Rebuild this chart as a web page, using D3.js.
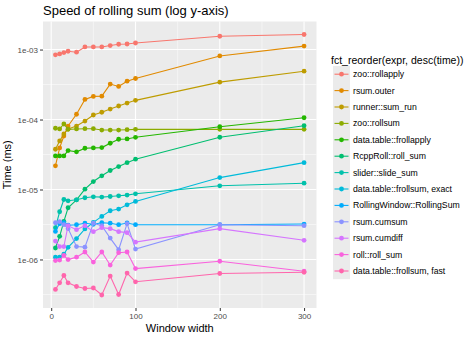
<!DOCTYPE html>
<html>
<head>
<meta charset="utf-8">
<script src="https://cdn.jsdelivr.net/npm/d3@7"></script>
<style>
  body { margin: 0; background: #fff; }
  svg { display: block; font-family: "Liberation Sans", Arial, sans-serif; }
</style>
</head>
<body>
<div id="chart"></div>
<script>
// window widths tested
const widths = [5, 10, 15, 20, 30, 40, 50, 60, 70, 80, 90, 100, 200, 300];

// median times per method, same order as widths
const zooRollapply = [8.4e-4, 8.65e-4, 9.06e-4, 9.46e-4, 9.16e-4, 1.09e-3, 1.09e-3, 1.09e-3, 1.14e-3, 1.19e-3, 1.20e-3, 1.24e-3, 1.55e-3, 1.64e-3];
const rsumOuter = [2.18e-5, 3.93e-5, 5.82e-5, 8.07e-5, 1.19e-4, 1.94e-4, 2.14e-4, 2.16e-4, 3.21e-4, 2.97e-4, 3.53e-4, 3.86e-4, 8.1e-4, 1.12e-3];
const runnerSumRun = [3.76e-5, 4.94e-5, 6.21e-5, 7.32e-5, 8.07e-5, 9.52e-5, 1.16e-4, 1.27e-4, 1.41e-4, 1.56e-4, 1.72e-4, 1.88e-4, 3.42e-4, 4.91e-4];
const zooRollsum = [7.5e-5, 7.33e-5, 8.63e-5, 7.24e-5, 7.33e-5, 7.39e-5, 7.39e-5, 7.08e-5, 7.08e-5, 7.08e-5, 7.16e-5, 7.24e-5, 7.24e-5, 7.24e-5];
const dtFrollapply = [3.02e-5, 3.02e-5, 3.02e-5, 3.6e-5, 3.45e-5, 3.89e-5, 3.93e-5, 3.97e-5, 4.58e-5, 5.23e-5, 5.28e-5, 5.57e-5, 7.89e-5, 1.06e-4];
const rcppRollSum = [1.46e-6, 2.14e-6, 3.5e-6, 5.49e-6, 7.13e-6, 1.01e-5, 1.3e-5, 1.57e-5, 1.87e-5, 2.13e-5, 2.42e-5, 2.71e-5, 5.58e-5, 8.16e-5];
const sliderSum = [2.85e-6, 4.81e-6, 7.2e-6, 6.9e-6, 7.13e-6, 7.62e-6, 7.87e-6, 7.79e-6, 7.95e-6, 8.13e-6, 8.32e-6, 8.68e-6, 1.13e-5, 1.23e-5];
const dtFrollsumExact = [1.08e-6, 1.08e-6, 1.19e-6, 1.49e-6, 1.99e-6, 2.73e-6, 3.39e-6, 4.13e-6, 4.97e-6, 5.26e-6, 6.05e-6, 6.75e-6, 1.48e-5, 2.42e-5];
const rollingWindowSum = [2.52e-6, 3.25e-6, 3.35e-6, 3.09e-6, 3.14e-6, 3.3e-6, 3.19e-6, 3.35e-6, 3.3e-6, 3.14e-6, 3.32e-6, 3.14e-6, 3.14e-6, 3.21e-6];
const rsumCumsum = [3.35e-6, 3.47e-6, 3.14e-6, 2.76e-6, 1.53e-6, 1.5e-6, 3.3e-6, 3.04e-6, 2.02e-6, 1.38e-6, 3.25e-6, 1.41e-6, 3.14e-6, 3.04e-6];
const rsumCumdiff = [1.83e-6, 1.53e-6, 1.53e-6, 3.04e-6, 2.67e-6, 3.04e-6, 2.5e-6, 2.85e-6, 2.76e-6, 2.5e-6, 2.42e-6, 1.77e-6, 2.76e-6, 1.88e-6];
const rollRollSum = [9.64e-7, 9.8e-7, 1.14e-6, 9.97e-7, 1.08e-6, 1.28e-6, 9.18e-7, 1.28e-6, 8.32e-7, 1.25e-6, 1.28e-6, 7.42e-7, 9.43e-7, 6.79e-7];
const dtFrollsumFast = [3.73e-7, 4.64e-7, 5.9e-7, 4.64e-7, 4.11e-7, 3.85e-7, 3.91e-7, 3.11e-7, 5.8e-7, 3.16e-7, 6.4e-7, 4.8e-7, 6.3e-7, 6.57e-7];

const methods = [
  'zoo::rollapply', 'rsum.outer', 'runner::sum_run', 'zoo::rollsum',
  'data.table::frollapply', 'RcppRoll::roll_sum', 'slider::slide_sum',
  'data.table::frollsum, exact', 'RollingWindow::RollingSum', 'rsum.cumsum',
  'rsum.cumdiff', 'roll::roll_sum', 'data.table::frollsum, fast'
];
const times = [
  zooRollapply, rsumOuter, runnerSumRun, zooRollsum, dtFrollapply, rcppRollSum,
  sliderSum, dtFrollsumExact, rollingWindowSum, rsumCumsum, rsumCumdiff,
  rollRollSum, dtFrollsumFast
];
const xTicks = [0, 100, 200, 300];
const yTicks = [1e-6, 1e-5, 1e-4, 1e-3];

// default ggplot hue palette for 13 levels
const colors = ['#F8766D', '#E18A00', '#BE9C00', '#8CAB00', '#24B700', '#00BE70',
  '#00C1AB', '#00BBDA', '#00ACFC', '#8B93FF', '#D575FE', '#F962DD', '#FF65AC'];

const width = 474, height = 338;
const panel = { left: 43, right: 316.5, top: 21.5, bottom: 308 };

const series = methods.map((name, i) => ({
  name,
  color: colors[i],
  values: widths.map((w, j) => ({ w, t: times[i][j] }))
}));

// ggplot-style 5% expansion, done on log10 for y
const xr = d3.extent(widths);
const xPad = (xr[1] - xr[0]) * 0.05;
const ly = d3.extent(times.flat().map(Math.log10));
const yPad = (ly[1] - ly[0]) * 0.05;

const x = d3.scaleLinear()
  .domain([xr[0] - xPad, xr[1] + xPad])
  .range([panel.left, panel.right]);
const y = d3.scaleLog()
  .domain([Math.pow(10, ly[0] - yPad), Math.pow(10, ly[1] + yPad)])
  .range([panel.bottom, panel.top]);

const svg = d3.select('#chart').append('svg')
  .attr('width', width)
  .attr('height', height);

svg.append('rect')
  .attr('x', panel.left).attr('y', panel.top)
  .attr('width', panel.right - panel.left)
  .attr('height', panel.bottom - panel.top)
  .attr('fill', '#EBEBEB');

const grid = svg.append('g');
// minor grid: halfway between majors
const xMinor = [50, 150, 250];
const yMinor = [-6.5, -5.5, -4.5, -3.5, -2.5].map(e => Math.pow(10, e))
  .filter(v => v > y.domain()[0] && v < y.domain()[1]);

grid.selectAll('.xminor').data(xMinor).enter().append('line')
  .attr('x1', d => x(d)).attr('x2', d => x(d))
  .attr('y1', panel.top).attr('y2', panel.bottom)
  .attr('stroke', '#fff').attr('stroke-width', 0.5);
grid.selectAll('.yminor').data(yMinor).enter().append('line')
  .attr('x1', panel.left).attr('x2', panel.right)
  .attr('y1', d => y(d)).attr('y2', d => y(d))
  .attr('stroke', '#fff').attr('stroke-width', 0.5);
grid.selectAll('.xmajor').data(xTicks).enter().append('line')
  .attr('x1', d => x(d)).attr('x2', d => x(d))
  .attr('y1', panel.top).attr('y2', panel.bottom)
  .attr('stroke', '#fff').attr('stroke-width', 1.1);
grid.selectAll('.ymajor').data(yTicks).enter().append('line')
  .attr('x1', panel.left).attr('x2', panel.right)
  .attr('y1', d => y(d)).attr('y2', d => y(d))
  .attr('stroke', '#fff').attr('stroke-width', 1.1);

const line = d3.line().x(d => x(d.w)).y(d => y(d.t));

const g = svg.selectAll('.series').data(series).enter().append('g');
g.append('path')
  .attr('d', d => line(d.values))
  .attr('fill', 'none')
  .attr('stroke', d => d.color)
  .attr('stroke-width', 1.1);
g.selectAll('circle')
  .data(d => d.values.map(v => ({ ...v, color: d.color })))
  .enter().append('circle')
  .attr('cx', d => x(d.w))
  .attr('cy', d => y(d.t))
  .attr('r', 2.4)
  .attr('fill', d => d.color);

// axes
const xAxis = svg.append('g')
  .attr('transform', `translate(0,${panel.bottom})`)
  .call(d3.axisBottom(x).tickValues(xTicks).tickSize(3).tickPadding(2));
const yAxis = svg.append('g')
  .attr('transform', `translate(${panel.left},0)`)
  .call(d3.axisLeft(y).tickValues(yTicks).tickSize(3).tickPadding(2)
    .tickFormat(d => '1e-0' + Math.round(-Math.log10(d))));
[xAxis, yAxis].forEach(a => {
  a.select('.domain').remove();
  a.selectAll('line').attr('stroke', '#333');
  a.selectAll('text').attr('fill', '#4D4D4D').style('font-size', '8px');
});

svg.append('text')
  .attr('x', panel.left)
  .attr('y', 15)
  .style('font-size', '13px')
  .text('Speed of rolling sum (log y-axis)');

svg.append('text')
  .attr('x', (panel.left + panel.right) / 2)
  .attr('y', 332)
  .attr('text-anchor', 'middle')
  .style('font-size', '11px')
  .text('Window width');

svg.append('text')
  .attr('transform', `translate(11,${(panel.top + panel.bottom) / 2}) rotate(-90)`)
  .attr('text-anchor', 'middle')
  .style('font-size', '11px')
  .text('Time (ms)');

// legend
const legend = svg.append('g').attr('transform', 'translate(331,0)');
legend.append('text')
  .attr('x', 0).attr('y', 64)
  .style('font-size', '10.5px')
  .text('fct_reorder(expr, desc(time))');

const keyH = 16.4, keyTop = 66;
legend.append('rect')
  .attr('x', 2).attr('y', keyTop)
  .attr('width', 17).attr('height', keyH * methods.length)
  .attr('fill', '#EBEBEB');

const item = legend.selectAll('.item').data(series).enter().append('g')
  .attr('transform', (d, i) => `translate(0,${keyTop + keyH * i + keyH / 2})`);
item.append('line')
  .attr('x1', 3.5).attr('x2', 17.5)
  .attr('stroke', d => d.color).attr('stroke-width', 1.1);
item.append('circle')
  .attr('cx', 10.5).attr('r', 2.4)
  .attr('fill', d => d.color);
item.append('text')
  .attr('x', 22).attr('dy', '0.35em')
  .style('font-size', '8.7px')
  .text(d => d.name);
</script>
</body>
</html>
